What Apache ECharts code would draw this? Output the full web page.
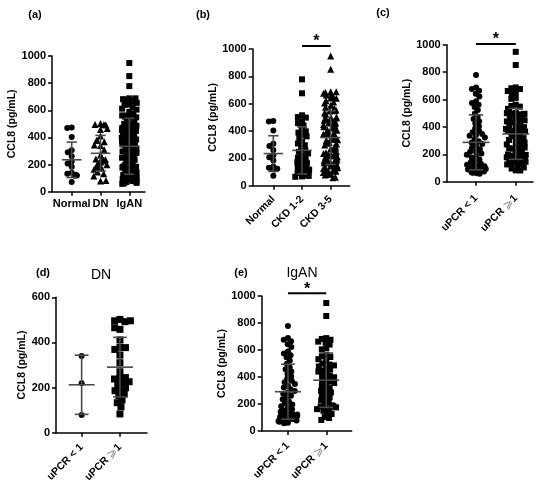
<!DOCTYPE html>
<html><head><meta charset="utf-8">
<script src="https://cdn.jsdelivr.net/npm/echarts@6/dist/echarts.min.js"></script>
<style>html,body{margin:0;padding:0;background:#fff}#c{width:550px;height:486px}</style>
</head><body><div id="c"></div>
<script>
// ---- data (CCL8, pg/mL) ----
const normal = [474, 470, 403, 306, 290, 262, 222, 208, 184, 140, 132, 124, 120, 118, 72];
const dnLow = [340, 219, 78];
const dnHigh = [502, 496, 492, 496, 458, 465, 411, 378, 369, 377, 344, 310, 270, 241, 238, 244, 220, 226, 210, 189, 199, 186, 171, 165, 145, 133, 115, 83];
const igaLow = [778, 688, 676, 664, 642, 622, 588, 574, 561, 546, 523, 498, 472, 458, 441, 424, 405, 388, 372, 361, 348, 336, 322, 309, 296, 284, 276, 262, 248, 236, 218, 205, 196, 184, 176, 162, 151, 142, 131, 124, 118, 112, 106, 101, 97, 93, 89, 86, 82, 78, 75, 72, 68, 65, 62, 58, 122, 108];
const igaHigh = [948, 852, 688, 682, 676, 662, 655, 640, 612, 605, 562, 553, 548, 532, 515, 500, 492, 486, 478, 470, 455, 448, 440, 432, 415, 408, 398, 385, 372, 366, 355, 340, 332, 318, 305, 298, 286, 272, 265, 250, 236, 228, 212, 196, 190, 182, 175, 168, 162, 150, 132, 126, 104, 96, 82, 185, 172, 178, 160, 145];
const ckd12 = [778, 676, 515, 502, 498, 472, 458, 441, 411, 398, 388, 372, 361, 348, 322, 309, 296, 276, 262, 248, 236, 218, 205, 196, 184, 176, 171, 165, 162, 151, 142, 131, 124, 118, 112, 101, 93, 89, 86, 82, 78, 75, 72, 68, 65];

const catsA = ['Normal', 'DN', 'IgAN'];
const catsB = ['Normal', 'CKD 1-2', 'CKD 3-5'];
const catsU = ['uPCR < 1', 'uPCR \u2A7E1'];
const yMaxMain = 1000, yMaxDN = 600, yStep = 200;
const yName = 'CCL8 (pg/mL)';
const panelTags = ['(a)', '(b)', '(c)', '(d)', '(e)'];
const subTitles = ['DN', 'IgAN'];
const sigB = [[1, 2, 1022]];
const sigC = [[0, 1, 1005]];
const sigE = [[0, 1, 1020]];

// ---- derived groups ----
const dn = dnLow.concat(dnHigh);
const iga = igaLow.concat(igaHigh);
const allPts = dn.concat(iga);
function without(pool, sub) { const rest = pool.slice(); sub.forEach(v => { const i = rest.indexOf(v); if (i >= 0) rest.splice(i, 1); }); return rest; }
const ckd35 = without(allPts, ckd12);
const uLow = dnLow.concat(igaLow);
const uHigh = dnHigh.concat(igaHigh);
function stats(a) { const n = a.length; const m = a.reduce((s, v) => s + v, 0) / n; const sd = Math.sqrt(a.reduce((s, v) => s + (v - m) * (v - m), 0) / (n - 1)); return [m, m - sd, m + sd]; }

const FONT = 'Liberation Sans, Arial, sans-serif';
const panels = [
  { frame: { left: 52, top: 56, width: 93, height: 135.7 }, dl: 57.3, dw: 86.4, yMax: yMaxMain, cats: catsA,
    groups: [{ v: normal, s: 'circle', z: 6 }, { v: dn, s: 'triangle', z: 7 }, { v: iga, s: 'rect', z: 6 }],
    rotate: 0, lmargin: 7, lsize: 11, jitter: 15, nameGap: 32, sig: null },
  { frame: { left: 252.7, top: 49, width: 97, height: 136.7 }, dl: 259, dw: 86, yMax: yMaxMain, cats: catsB,
    groups: [{ v: normal, s: 'circle', z: 6 }, { v: ckd12, s: 'rect', z: 6 }, { v: ckd35, s: 'triangle', z: 7 }],
    rotate: 45, lmargin: 12, lsize: 10.5, jitter: 15, nameGap: 34, sig: sigB },
  { frame: { left: 446.7, top: 44.7, width: 86.3, height: 137 }, dl: 456.2, dw: 79.4, yMax: yMaxMain, cats: catsU,
    groups: [{ v: uLow, s: 'circle', z: 6 }, { v: uHigh, s: 'rect', z: 6 }],
    rotate: 45, lmargin: 15, lsize: 10.5, jitter: 20, nameGap: 26, sig: sigC },
  { frame: { left: 56, top: 297.3, width: 91, height: 135.4 }, dl: 62.5, dw: 76.6, yMax: yMaxDN, cats: catsU,
    groups: [{ v: dnLow, s: 'circle', z: 6 }, { v: dnHigh, s: 'rect', z: 7 }],
    rotate: 45, lmargin: 13, lsize: 10.5, jitter: 22, nameGap: 28, sig: null },
  { frame: { left: 261.7, top: 296, width: 90, height: 135 }, dl: 268.8, dw: 76.6, yMax: yMaxMain, cats: catsU,
    groups: [{ v: igaLow, s: 'circle', z: 6 }, { v: igaHigh, s: 'rect', z: 6 }],
    rotate: 45, lmargin: 13, lsize: 10.5, jitter: 20, nameGap: 27, sig: sigE }
];

const grid = [], xAxis = [], yAxis = [], series = [];
panels.forEach((p, i) => {
  const fi = 2 * i, di = 2 * i + 1;
  grid.push({ left: p.frame.left, top: p.frame.top, width: p.frame.width, height: p.frame.height });
  grid.push({ left: p.dl, top: p.frame.top, width: p.dw, height: p.frame.height });
  xAxis.push({ gridIndex: fi, type: 'value', min: 0, max: 1, axisLine: { show: true, lineStyle: { color: '#000', width: 1.5 } },
    axisTick: { show: false }, axisLabel: { show: false }, splitLine: { show: false } });
  yAxis.push({ gridIndex: fi, type: 'value', min: 0, max: p.yMax, interval: yStep,
    axisLine: { show: true, lineStyle: { color: '#000', width: 1.5 } },
    axisTick: { show: true, length: 4, lineStyle: { color: '#000', width: 1.5 } },
    axisLabel: { margin: 6, fontSize: 11, fontWeight: 'bold', color: '#000', fontFamily: FONT, formatter: v => String(v) },
    splitLine: { show: false },
    name: yName, nameLocation: 'middle', nameGap: p.nameGap,
    nameTextStyle: { fontSize: 10.5, fontWeight: 'bold', color: '#000', fontFamily: FONT } });
  xAxis.push({ gridIndex: di, type: 'category', data: p.cats, boundaryGap: true,
    jitter: p.jitter, jitterOverlap: false, jitterMargin: -1.5,
    axisLine: { show: false },
    axisTick: { show: true, alignWithLabel: true, length: 4, lineStyle: { color: '#000', width: 1.5 } },
    axisLabel: { interval: 0, rotate: p.rotate, margin: p.lmargin, fontSize: p.lsize, fontWeight: 'bold', color: '#000', fontFamily: FONT,
      formatter: v => v.indexOf('\u2A7E') >= 0 ? v.replace('\u2A7E', '{g|\u2A7E}') : v,
      rich: { g: { color: '#888', fontWeight: 'normal', fontSize: p.lsize + 1, fontFamily: 'DejaVu Sans' } } },
    splitLine: { show: false } });
  yAxis.push({ gridIndex: di, type: 'value', min: 0, max: p.yMax, show: false });
  p.groups.forEach((g, gi) => {
    series.push({ type: 'scatter', xAxisIndex: di, yAxisIndex: di, symbol: g.s, symbolSize: g.z,
      itemStyle: { color: '#000', opacity: 1 }, silent: true, z: 2,
      data: g.v.map(v => [gi, v]) });
  });
  series.push({ type: 'custom', xAxisIndex: di, yAxisIndex: di, z: 5, silent: true, clip: false,
    data: p.groups.map((g, gi) => [gi].concat(stats(g.v))),
    renderItem: (params, api) => {
      const x = api.value(0);
      const c = api.coord([x, api.value(1)]);
      const lo = api.coord([x, api.value(2)]);
      const hi = api.coord([x, api.value(3)]);
      const bw = api.size([1, 0])[0];
      const mw = bw * 0.34, cw = bw * 0.18;
      const st = { stroke: '#4a4a4a', lineWidth: 1.6 };
      return { type: 'group', children: [
        { type: 'line', shape: { x1: c[0], y1: lo[1], x2: c[0], y2: hi[1] }, style: st },
        { type: 'line', shape: { x1: c[0] - mw, y1: c[1], x2: c[0] + mw, y2: c[1] }, style: st },
        { type: 'line', shape: { x1: c[0] - cw, y1: lo[1], x2: c[0] + cw, y2: lo[1] }, style: st },
        { type: 'line', shape: { x1: c[0] - cw, y1: hi[1], x2: c[0] + cw, y2: hi[1] }, style: st }
      ] };
    } });
  if (p.sig) {
    series.push({ type: 'custom', xAxisIndex: di, yAxisIndex: di, z: 5, silent: true, clip: false,
      data: p.sig,
      renderItem: (params, api) => {
        const a = api.coord([api.value(0), api.value(2)]);
        const b = api.coord([api.value(1), api.value(2)]);
        return { type: 'group', children: [
          { type: 'line', shape: { x1: a[0], y1: a[1], x2: b[0], y2: b[1] }, style: { stroke: '#000', lineWidth: 2 } },
          { type: 'text', x: (a[0] + b[0]) / 2, y: a[1] + 4, style: { text: '*', fill: '#000', font: 'bold 16px ' + FONT, textAlign: 'center', textVerticalAlign: 'bottom' } }
        ] };
      } });
  }
});

const tagPos = [[35, 15], [203, 15], [383, 13], [43, 273], [241, 273]];
const graphic = panelTags.map((t, i) => ({ type: 'text', x: tagPos[i][0], y: tagPos[i][1],
  style: { text: t, font: 'bold 11px ' + FONT, fill: '#000', textAlign: 'center', textVerticalAlign: 'middle' } }));
graphic.push({ type: 'text', x: 101, y: 275, style: { text: subTitles[0], font: '14px ' + FONT, fill: '#000', textAlign: 'center', textVerticalAlign: 'middle' } });
graphic.push({ type: 'text', x: 302, y: 273, style: { text: subTitles[1], font: '14px ' + FONT, fill: '#000', textAlign: 'center', textVerticalAlign: 'middle' } });

const chart = echarts.init(document.getElementById('c'), null, { renderer: 'canvas' });
chart.setOption({ animation: false, backgroundColor: '#fff', grid, xAxis, yAxis, series, graphic });
</script></body></html>
